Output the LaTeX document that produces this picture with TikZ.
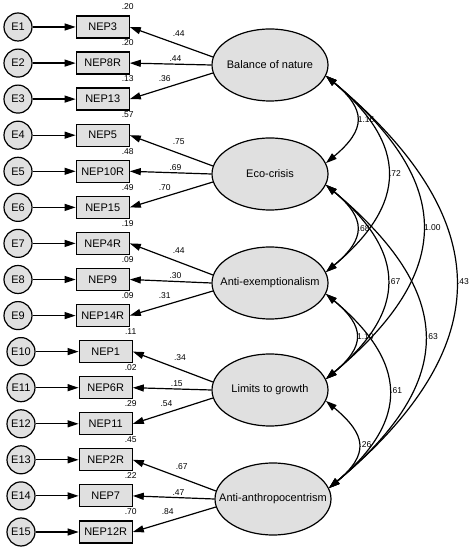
\documentclass[tikz,border=0pt]{standalone}
\usepackage{fontspec}
\setmainfont{Liberation Sans}
\usepackage{tikz}
\usetikzlibrary{arrows.meta}
\usetikzlibrary{positioning}
\usetikzlibrary{shapes.geometric}

\definecolor{boxgray}{RGB}{224,224,224}

\begin{document}
\begin{tikzpicture}[x=1pt,y=1pt,line width=1.2pt,
  every node/.style={font=\fontsize{11}{13}\selectfont},
  err/.style={draw,circle,fill=boxgray,minimum size=28pt,inner sep=0pt},
  obs/.style={draw,rectangle,fill=boxgray,minimum width=53pt,minimum height=22pt,inner sep=0pt},
  lat/.style={draw,ellipse,fill=boxgray,minimum width=116pt,minimum height=72pt,inner xsep=-14pt,inner ysep=0pt},
  arr/.style={-{Triangle[length=11pt,width=7pt]}},
  cov/.style={{Triangle[length=11pt,width=7pt]}-{Triangle[length=11pt,width=7pt]}},
  num/.style={font=\fontsize{8.5}{9}\selectfont,inner sep=1pt},
  r2/.style={num,xshift=25pt,yshift=4pt},
  cl/.style={num,anchor=west}]
  \useasboundingbox (0,0) rectangle (474,551);

  % error terms and items
  \node[err] (e1) at (18,524.0) {E1};
  \node[err] (e2) at (18,487.9) {E2};
  \node[err] (e3) at (18,451.9) {E3};
  \node[err] (e4) at (18,415.8) {E4};
  \node[err] (e5) at (18,379.7) {E5};
  \node[err] (e6) at (18,343.6) {E6};
  \node[err] (e7) at (18,307.6) {E7};
  \node[err] (e8) at (18,271.5) {E8};
  \node[err] (e9) at (18,235.4) {E9};
  \node[err] (e10) at (21,199.4) {E10};
  \node[err] (e11) at (21,163.3) {E11};
  \node[err] (e12) at (21,127.2) {E12};
  \node[err] (e13) at (21,91.2) {E13};
  \node[err] (e14) at (21,55.1) {E14};
  \node[err] (e15) at (21,19.0) {E15};

  \node[obs,right=43pt of e1,label={[r2]above:.20}] (n1) {NEP3};
  \node[obs,right=43pt of e2,label={[r2]above:.20}] (n2) {NEP8R};
  \node[obs,right=43pt of e3,label={[r2]above:.13}] (n3) {NEP13};
  \node[obs,right=43pt of e4,label={[r2]above:.57}] (n4) {NEP5};
  \node[obs,right=43pt of e5,label={[r2]above:.48}] (n5) {NEP10R};
  \node[obs,right=43pt of e6,label={[r2]above:.49}] (n6) {NEP15};
  \node[obs,right=43pt of e7,label={[r2]above:.19}] (n7) {NEP4R};
  \node[obs,right=43pt of e8,label={[r2]above:.09}] (n8) {NEP9};
  \node[obs,right=43pt of e9,label={[r2]above:.09}] (n9) {NEP14R};
  \node[obs,right=43pt of e10,label={[r2]above:.11}] (n10) {NEP1};
  \node[obs,right=43pt of e11,label={[r2]above:.02}] (n11) {NEP6R};
  \node[obs,right=43pt of e12,label={[r2]above:.29}] (n12) {NEP11};
  \node[obs,right=43pt of e13,label={[r2]above:.45}] (n13) {NEP2R};
  \node[obs,right=43pt of e14,label={[r2]above:.22}] (n14) {NEP7};
  \node[obs,right=43pt of e15,label={[r2]above:.70}] (n15) {NEP12R};

  % factors
  \node[lat] (bn) at (270,486) {Balance of nature};
  \node[lat] (ec) at (270,377) {Eco-crisis};
  \node[lat] (ae) at (270,268) {Anti-exemptionalism};
  \node[lat] (lg) at (270,161) {Limits to growth};
  \node[lat] (aa) at (273,52) {Anti-anthropocentrism};

  \draw[arr](e1)--(n1);
  \draw[arr](e2)--(n2);
  \draw[arr](e3)--(n3);
  \draw[arr](e4)--(n4);
  \draw[arr](e5)--(n5);
  \draw[arr](e6)--(n6);
  \draw[arr](e7)--(n7);
  \draw[arr](e8)--(n8);
  \draw[arr](e9)--(n9);
  \draw[arr](e10)--(n10);
  \draw[arr](e11)--(n11);
  \draw[arr](e12)--(n12);
  \draw[arr](e13)--(n13);
  \draw[arr](e14)--(n14);
  \draw[arr](e15)--(n15);

  % loadings
  \draw[arr](bn.172)--node[num,pos=.41,above=7pt]{.44}(n1.east);
  \draw[arr](bn.180)--node[num,pos=.44,above=1pt]{.44}(n2.east);
  \draw[arr](bn.188)--node[num,pos=.58,above=5pt]{.36}(n3.east);
  \draw[arr](ec.172)--node[num,pos=.41,above=7pt]{.75}(n4.east);
  \draw[arr](ec.180)--node[num,pos=.44,above=1pt]{.69}(n5.east);
  \draw[arr](ec.188)--node[num,pos=.58,above=5pt]{.70}(n6.east);
  \draw[arr](ae.172)--node[num,pos=.41,above=7pt]{.44}(n7.east);
  \draw[arr](ae.180)--node[num,pos=.44,above=1pt]{.30}(n8.east);
  \draw[arr](ae.188)--node[num,pos=.58,above=5pt]{.31}(n9.east);
  \draw[arr](lg.172)--node[num,pos=.41,above=7pt]{.34}(n10.east);
  \draw[arr](lg.180)--node[num,pos=.44,above=1pt]{.15}(n11.east);
  \draw[arr](lg.188)--node[num,pos=.58,above=5pt]{.54}(n12.east);
  \draw[arr](aa.172)--node[num,pos=.41,above=7pt]{.67}(n13.east);
  \draw[arr](aa.180)--node[num,pos=.44,above=1pt]{.47}(n14.east);
  \draw[arr](aa.188)--node[num,pos=.58,above=5pt]{.84}(n15.east);

  % covariances
  \draw[cov](bn.-11) to[out=-40,in=40,looseness=1.55] node[cl]{1.16} (ec.11);
  \draw[cov](ec.-11) to[out=-40,in=40,looseness=1.55] node[cl]{.68} (ae.11);
  \draw[cov](ae.-11) to[out=-40,in=40,looseness=1.55] node[cl]{1.10} (lg.11);
  \draw[cov](lg.-11) to[out=-40,in=40,looseness=1.55] node[cl]{.26} (aa.11);
  \draw[cov](bn.-11) to[out=-40,in=40,looseness=1.4] node[cl]{.72} (ae.11);
  \draw[cov](ec.-11) to[out=-40,in=40,looseness=1.4] node[cl]{.67} (lg.11);
  \draw[cov](ae.-11) to[out=-40,in=40,looseness=1.4] node[cl]{.61} (aa.11);
  \draw[cov](bn.-11) to[out=-40,in=40,looseness=1.42] node[cl]{1.00} (lg.11);
  \draw[cov](ec.-11) to[out=-40,in=40,looseness=1.42] node[cl]{.63} (aa.11);
  \draw[cov](bn.-11) to[out=-40,in=40,looseness=1.38] node[cl]{.43} (aa.11);
\end{tikzpicture}
\end{document}
